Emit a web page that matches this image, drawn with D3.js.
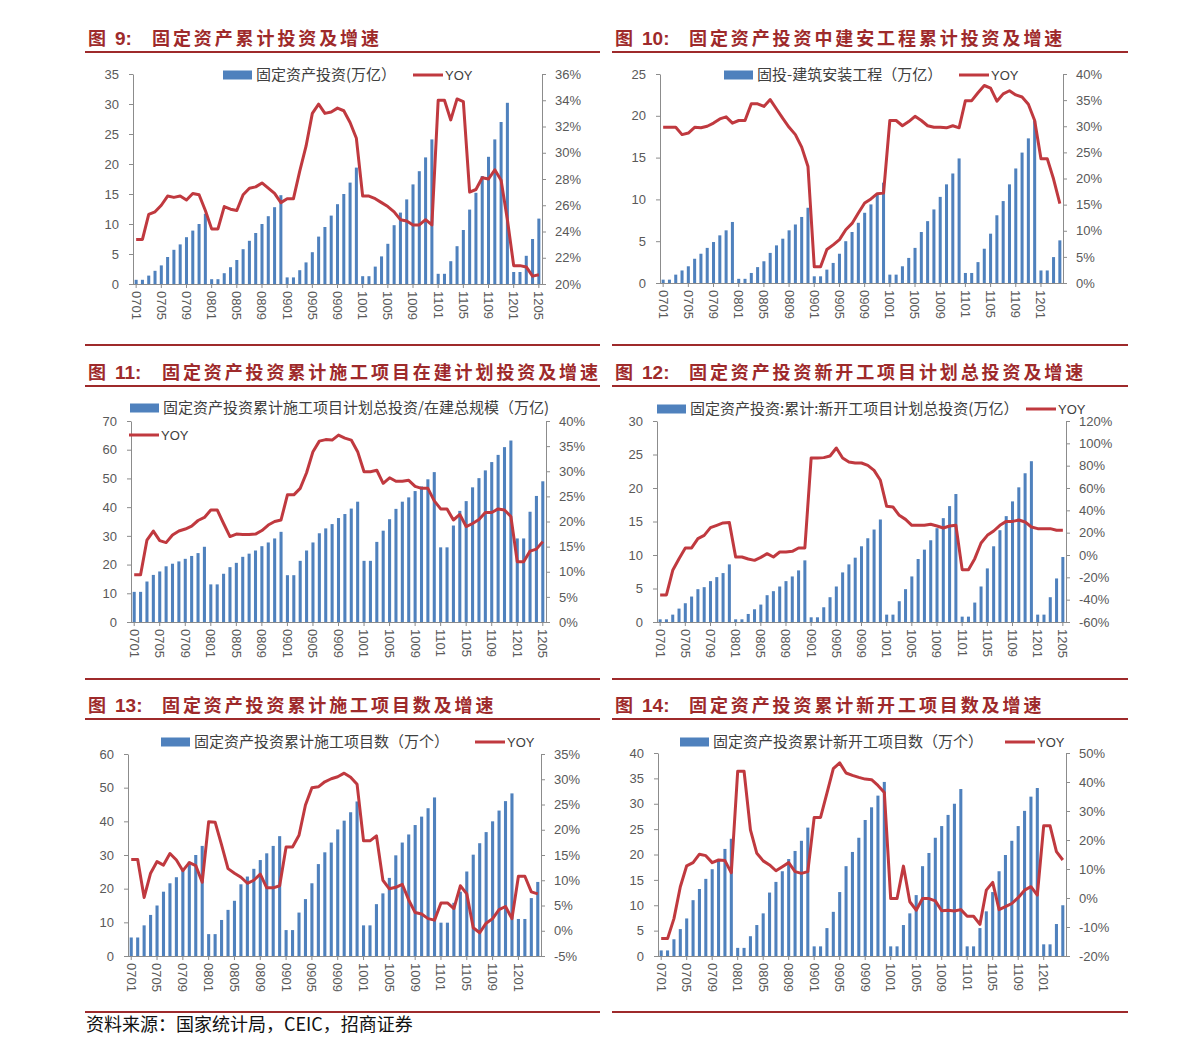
<!DOCTYPE html>
<html>
<head>
<meta charset="utf-8">
<title>固定资产投资及增速</title>
<script src="https://d3js.org/d3.v7.min.js"></script>
<style>
  * { margin:0; padding:0; }
  body { background:#fff; width:1191px; height:1055px; overflow:hidden;
         font-family:"Noto Sans CJK SC", "Noto Sans", sans-serif; }
  .axis text { fill:#595959; font-size:13px; font-family:"Liberation Sans", "Noto Sans CJK SC", sans-serif; }
  .axis .domain, .axis line { stroke:#8c8c8c; }
  .legend text { fill:#404040; font-size:15px; }
</style>
</head>
<body>
<svg id="page" width="1191" height="1055"></svg>
<script>
// categories (2007-01 .. 2012-05)
const months = ["0701","0702","0703","0704","0705","0706","0707","0708","0709","0710","0711","0712",
  "0801","0802","0803","0804","0805","0806","0807","0808","0809","0810","0811","0812",
  "0901","0902","0903","0904","0905","0906","0907","0908","0909","0910","0911","0912",
  "1001","1002","1003","1004","1005","1006","1007","1008","1009","1010","1011","1012",
  "1101","1102","1103","1104","1105","1106","1107","1108","1109","1110","1111","1112",
  "1201","1202","1203","1204","1205"];
const monthsTo1204 = months.slice(0, 64);
const xTickLabels = ["0701","0705","0709","0801","0805","0809","0901","0905","0909",
  "1001","1005","1009","1101","1105","1109","1201","1205"];

// 图9
const faiValue = [0.7,0.7,1.4,2.2,3.1,4.5,5.7,6.6,7.8,8.9,10.0,11.7,
  0.8,0.8,1.8,2.8,4.0,5.8,7.2,8.5,10.0,11.3,12.8,14.8,
  1.1,1.1,2.3,3.6,5.3,7.9,9.5,11.4,13.3,15.0,16.9,19.4,
  1.3,1.3,2.9,4.6,6.7,9.8,11.9,14.1,16.6,18.8,21.1,24.1,
  1.7,1.7,3.8,6.3,9.0,12.4,15.2,18.0,21.2,24.1,27.0,30.2,
  2.0,2.0,4.7,7.5,10.9];
const faiYoy = [23.4,23.4,25.3,25.5,26.0,26.7,26.6,26.7,26.4,26.9,26.8,25.6,
  24.2,24.2,25.9,25.7,25.6,26.8,27.3,27.4,27.7,27.3,26.9,26.2,
  26.5,26.5,28.6,30.5,33.0,33.7,33.0,33.1,33.4,33.2,32.3,31.1,
  26.7,26.7,26.5,26.2,25.9,25.5,24.9,24.8,24.5,24.5,24.9,24.5,
  34.0,34.0,32.5,34.1,33.9,27.0,27.2,28.1,28.0,28.7,27.9,24.9,
  21.4,21.4,21.3,20.6,20.7];
const faiLeftTicks = [0,5,10,15,20,25,30,35];
const faiRightTicks = [20,22,24,26,28,30,32,34,36];

// 图10
const buildValue = [0.4,0.4,1.0,1.5,2.0,2.9,3.5,4.2,4.9,5.7,6.3,7.3,
  0.5,0.5,1.2,1.9,2.6,3.6,4.5,5.3,6.3,7.0,7.9,9.0,
  0.8,0.8,1.6,2.4,3.5,5.0,6.1,7.2,8.4,9.4,10.6,12.0,
  1.0,1.0,2.0,3.0,4.2,6.1,7.4,8.8,10.3,11.8,13.1,14.9,
  1.2,1.2,2.5,4.1,5.9,8.1,9.8,11.8,13.7,15.6,17.3,19.4,
  1.5,1.5,3.1,5.1];
const buildYoy = [29.8,29.8,29.8,28.4,28.7,29.8,29.7,30.0,30.6,31.4,31.8,30.6,
  31.1,31.1,34.3,34.3,33.8,35.1,33.3,31.5,29.8,28.4,26.0,22.3,
  3.1,3.1,6.4,7.3,8.3,10.2,11.4,13.4,15.3,16.1,17.1,17.2,
  31.1,31.1,30.1,30.9,31.9,31.1,30.1,29.8,29.8,29.7,30.1,29.7,
  34.9,34.9,36.4,37.8,37.3,34.8,36.2,36.8,36.0,35.6,34.2,31.1,
  23.8,23.8,19.9,15.2];
const buildLeftTicks = [0,5,10,15,20,25];
const buildRightTicks = [0,5,10,15,20,25,30,35,40];

// 图11
const planValue = [10.5,10.5,14.1,16.4,17.6,19.4,20.3,21.1,22.0,23.0,24.0,26.2,
  13.1,13.1,16.8,19.1,20.6,22.7,23.8,24.9,26.4,27.7,29.1,31.4,
  16.3,16.3,21.3,24.9,27.7,30.9,32.6,34.1,36.2,37.6,39.5,41.9,
  21.3,21.3,27.9,31.8,35.8,39.4,41.9,43.4,45.6,47.2,49.7,52.2,
  26.0,26.0,33.6,38.7,42.1,46.9,50.1,52.8,55.7,58.2,60.9,63.2,
  29.1,29.1,38.4,43.9,49.0];
const planYoy = [9.4,9.4,16.3,18.1,16.2,15.8,17.3,18.1,18.5,19.1,20.2,20.8,
  22.3,22.3,19.6,17.0,17.5,17.4,17.4,17.5,18.2,19.3,20.0,20.3,
  25.3,25.3,26.6,29.7,33.9,36.0,36.3,36.2,37.2,36.6,36.2,33.9,
  29.9,29.9,30.2,27.6,28.7,28.0,28.0,28.2,27.0,26.6,26.6,24.1,
  22.5,22.5,20.3,21.4,19.0,19.6,20.4,21.8,21.8,22.5,22.3,21.0,
  12.0,12.0,14.1,14.5,16.0];
const planLeftTicks = [0,10,20,30,40,50,60,70];
const planRightTicks = [0,5,10,15,20,25,30,35,40];

// 图12
const newPlanValue = [0.4,0.4,1.1,2.0,2.8,3.8,4.9,5.2,6.1,6.7,7.3,8.6,
  0.4,0.4,1.2,1.9,2.6,4.0,4.6,5.3,6.1,6.8,7.7,9.2,
  0.7,0.7,2.2,3.7,5.3,7.4,8.6,9.6,11.3,12.5,13.8,15.3,
  1.1,1.1,3.1,4.9,6.8,9.4,10.8,12.2,14.0,15.5,17.3,19.1,
  0.8,0.8,2.9,5.3,8.0,11.3,13.7,15.8,18.0,20.1,22.2,24.0,
  1.1,1.1,3.7,6.5,9.7];
const newPlanYoy = [-35.8,-35.8,-13.7,-3.3,6.3,6.3,14.6,17.6,24.5,26.6,28.7,29.0,
  -1.8,-1.8,-3.6,-4.8,-2.1,1.2,-1.8,2.7,2.7,3.3,6.3,6.3,
  86.9,86.9,87.2,88.7,95.8,86.9,83.3,82.4,82.4,80.3,75.8,66.9,
  43.6,43.0,35.5,31.9,26.6,26.6,26.6,27.5,26.0,24.2,26.0,26.6,
  -13.1,-13.1,-3.3,10.7,17.6,21.5,26.6,30.1,30.1,31.3,29.6,25.1,
  23.6,23.6,23.6,22.1,22.1];
const newPlanLeftTicks = [0,5,10,15,20,25,30];
const newPlanRightTicks = [-60,-40,-20,0,20,40,60,80,100,120];

// 图13
const projValue = [5.5,5.5,9.1,12.2,15.0,19.1,21.6,23.4,25.8,28.0,30.0,32.7,
  6.5,6.5,10.7,13.7,16.4,21.3,23.6,25.9,28.5,30.5,32.7,35.6,
  7.7,7.7,12.9,16.9,21.6,27.3,30.8,33.7,37.6,40.2,42.7,45.9,
  9.1,9.1,15.4,18.6,23.2,29.9,33.7,36.1,38.9,41.4,43.9,47.1,
  9.9,9.9,15.8,19.1,25.1,30.1,33.5,36.8,40.0,43.2,46.0,48.3,
  11.0,11.0,17.2,22.0];
const projYoy = [14.1,14.1,6.6,11.4,13.7,13.0,15.3,14.0,11.9,13.5,12.9,9.6,
  21.6,21.5,17.0,12.3,11.4,10.6,9.4,10.0,11.2,8.5,8.5,8.9,
  16.6,16.6,18.9,24.9,28.3,28.5,29.5,30.1,30.5,31.2,30.4,29.0,
  17.8,17.8,18.8,10.0,8.3,8.6,9.2,6.1,3.6,3.3,2.4,2.1,
  5.5,5.5,4.4,8.9,7.3,0.6,-0.4,1.5,2.4,4.2,4.8,2.4,
  10.8,10.8,7.7,7.3];
const projLeftTicks = [0,10,20,30,40,50,60];
const projRightTicks = [-5,0,5,10,15,20,25,30,35];

// 图14
const newProjValue = [1.1,1.1,3.3,5.3,7.4,11.0,13.2,15.2,17.1,18.9,21.1,23.1,
  1.6,1.6,3.9,6.1,8.4,12.5,14.6,16.7,19.1,20.7,22.7,25.3,
  1.9,1.9,5.5,8.7,12.6,17.7,20.5,23.3,26.8,29.3,31.6,34.3,
  1.9,1.9,6.1,8.4,12.0,17.7,20.3,23.3,25.6,27.8,30.0,32.9,
  1.9,1.9,5.5,8.8,12.6,16.7,19.9,22.7,25.6,28.6,31.4,33.1,
  2.3,2.3,6.3,10.0];
const newProjYoy = [-14.0,-14.0,-7.1,3.9,11.1,12.2,15.1,14.6,12.2,13.1,12.9,8.7,
  43.7,43.7,23.5,15.4,12.8,11.4,9.4,10.8,12.2,9.1,8.5,9.1,
  27.8,27.8,36.2,44.6,46.6,43.1,42.3,41.6,41.0,40.8,38.8,36.4,
  -0.2,-0.2,11.0,-1.3,-4.2,-0.2,-0.2,-1.0,-4.4,-4.2,-4.5,-4.0,
  -6.3,-6.3,-9.1,2.7,5.4,-4.0,-3.0,-1.9,0.1,2.7,3.9,1.0,
  24.9,24.9,16.0,13.1];
const newProjLeftTicks = [0,5,10,15,20,25,30,35,40];
const newProjRightTicks = [-20,-10,0,10,20,30,40,50];

const BLUE = "#4f81bd", RED = "#c0393f", DARKRED = "#9e2a2b";
const svg = d3.select("#page");

const panels = [
  { num:"9", title:"固定资产累计投资及增速", px:85, pw:515, titleY:45,
    months:months, bars:faiValue, yoy:faiYoy, lt:faiLeftTicks, rt:faiRightTicks,
    left:133, right:542, top:74, bottom:284,
    barLabel:"固定资产投资(万亿）", barLeg:[223,75], lineLeg:[413,75] },
  { num:"10", title:"固定资产投资中建安工程累计投资及增速", px:612, pw:516, titleY:45,
    months:monthsTo1204, bars:buildValue, yoy:buildYoy, lt:buildLeftTicks, rt:buildRightTicks,
    left:660, right:1063, top:74, bottom:283,
    barLabel:"固投-建筑安装工程（万亿）", barLeg:[724,75], lineLeg:[959,75] },
  { num:"11", title:"固定资产投资累计施工项目在建计划投资及增速", px:85, pw:515, titleY:379,
    months:months, bars:planValue, yoy:planYoy, lt:planLeftTicks, rt:planRightTicks,
    left:131, right:546, top:421, bottom:622,
    barLabel:"固定资产投资累计施工项目计划总投资/在建总规模（万亿)", barLeg:[130,408], lineLeg:[129,435] },
  { num:"12", title:"固定资产投资新开工项目计划总投资及增速", px:612, pw:516, titleY:379,
    months:months, bars:newPlanValue, yoy:newPlanYoy, lt:newPlanLeftTicks, rt:newPlanRightTicks,
    left:657, right:1066, top:421, bottom:622,
    barLabel:"固定资产投资:累计:新开工项目计划总投资(万亿）", barLeg:[657,409], lineLeg:[1026,409] },
  { num:"13", title:"固定资产投资累计施工项目数及增速", px:85, pw:515, titleY:712,
    months:monthsTo1204, bars:projValue, yoy:projYoy, lt:projLeftTicks, rt:projRightTicks,
    left:128, right:541, top:754, bottom:956,
    barLabel:"固定资产投资累计施工项目数（万个）", barLeg:[161,742], lineLeg:[475,742] },
  { num:"14", title:"固定资产投资累计新开工项目数及增速", px:612, pw:516, titleY:712,
    months:monthsTo1204, bars:newProjValue, yoy:newProjYoy, lt:newProjLeftTicks, rt:newProjRightTicks,
    left:658, right:1066, top:753, bottom:956,
    barLabel:"固定资产投资累计新开工项目数（万个）", barLeg:[680,742], lineLeg:[1005,742] }
];

function drawPanel(p) {
  const g = svg.append("g");

  // title
  const t = g.append("text").attr("y", p.titleY).attr("fill", DARKRED)
    .style("font-size", "18px").style("font-weight", "bold");
  t.append("tspan").attr("x", p.px + 3).text("图");
  t.append("tspan").attr("x", p.px + 30)
    .style("font-family", "'Liberation Sans', Arial, sans-serif").style("font-size", "19px")
    .text(p.num + ":");
  t.append("tspan").attr("x", p.px + (p.num.length > 1 ? 77 : 67))
    .style("letter-spacing", "2.9px").text(p.title);

  g.append("line").attr("x1", p.px).attr("x2", p.px + p.pw)
    .attr("y1", p.titleY + 7).attr("y2", p.titleY + 7)
    .attr("stroke", DARKRED).attr("stroke-width", 2);
  g.append("line").attr("x1", p.px).attr("x2", p.px + p.pw)
    .attr("y1", p.titleY + 300).attr("y2", p.titleY + 300)
    .attr("stroke", DARKRED).attr("stroke-width", 2);

  // scales
  const x = d3.scaleBand().domain(p.months).range([p.left, p.right])
    .paddingInner(0.52).paddingOuter(0.26);
  const y = d3.scaleLinear().domain([p.lt[0], p.lt[p.lt.length - 1]]).range([p.bottom, p.top]);
  const y2 = d3.scaleLinear().domain([p.rt[0], p.rt[p.rt.length - 1]]).range([p.bottom, p.top]);
  const cx = d => x(d) + x.bandwidth() / 2;

  // bars
  g.append("g").selectAll("rect").data(p.months).join("rect")
    .attr("x", d => x(d)).attr("width", x.bandwidth())
    .attr("y", (d, i) => y(p.bars[i])).attr("height", (d, i) => y(0) - y(p.bars[i]))
    .attr("fill", BLUE);

  // axes
  g.append("g").attr("class", "axis").attr("transform", `translate(${p.left},0)`)
    .call(d3.axisLeft(y).tickValues(p.lt).tickSize(4).tickSizeOuter(0).tickPadding(10));
  g.append("g").attr("class", "axis").attr("transform", `translate(${p.right},0)`)
    .call(d3.axisRight(y2).tickValues(p.rt).tickSize(4).tickSizeOuter(0).tickPadding(9)
      .tickFormat(d => d + "%"));
  const xa = g.append("g").attr("class", "axis").attr("transform", `translate(0,${p.bottom})`)
    .call(d3.axisBottom(x).tickValues(xTickLabels.filter(m => p.months.includes(m)))
      .tickSize(4).tickSizeOuter(0));
  xa.select(".domain").attr("d", `M${p.left},0.5H${p.right}`);
  xa.selectAll("text").attr("transform", "rotate(90)")
    .attr("x", 7).attr("y", 0).attr("dy", "0.35em").style("text-anchor", "start");

  // yoy line
  const line = d3.line().x(d => cx(d)).y((d, i) => y2(p.yoy[i]));
  g.append("path").datum(p.months).attr("d", line)
    .attr("fill", "none").attr("stroke", RED).attr("stroke-width", 3)
    .attr("stroke-linejoin", "round");

  // legend
  const lg = g.append("g").attr("class", "legend");
  lg.append("rect").attr("x", p.barLeg[0]).attr("y", p.barLeg[1] - 4.5)
    .attr("width", 29).attr("height", 9).attr("fill", BLUE);
  lg.append("text").attr("x", p.barLeg[0] + 33).attr("y", p.barLeg[1])
    .attr("dy", "0.35em").text(p.barLabel);
  lg.append("line").attr("x1", p.lineLeg[0]).attr("x2", p.lineLeg[0] + 30)
    .attr("y1", p.lineLeg[1]).attr("y2", p.lineLeg[1])
    .attr("stroke", RED).attr("stroke-width", 3);
  lg.append("text").attr("x", p.lineLeg[0] + 32).attr("y", p.lineLeg[1])
    .attr("dy", "0.35em").style("font-family", "'Liberation Sans', sans-serif")
    .style("font-size", "13px").text("YOY");
}

panels.forEach(drawPanel);

svg.append("text").attr("x", 86).attr("y", 1031)
  .style("font-size", "18px").attr("fill", "#111")
  .text("资料来源：国家统计局，CEIC，招商证券");
</script>
</body>
</html>
